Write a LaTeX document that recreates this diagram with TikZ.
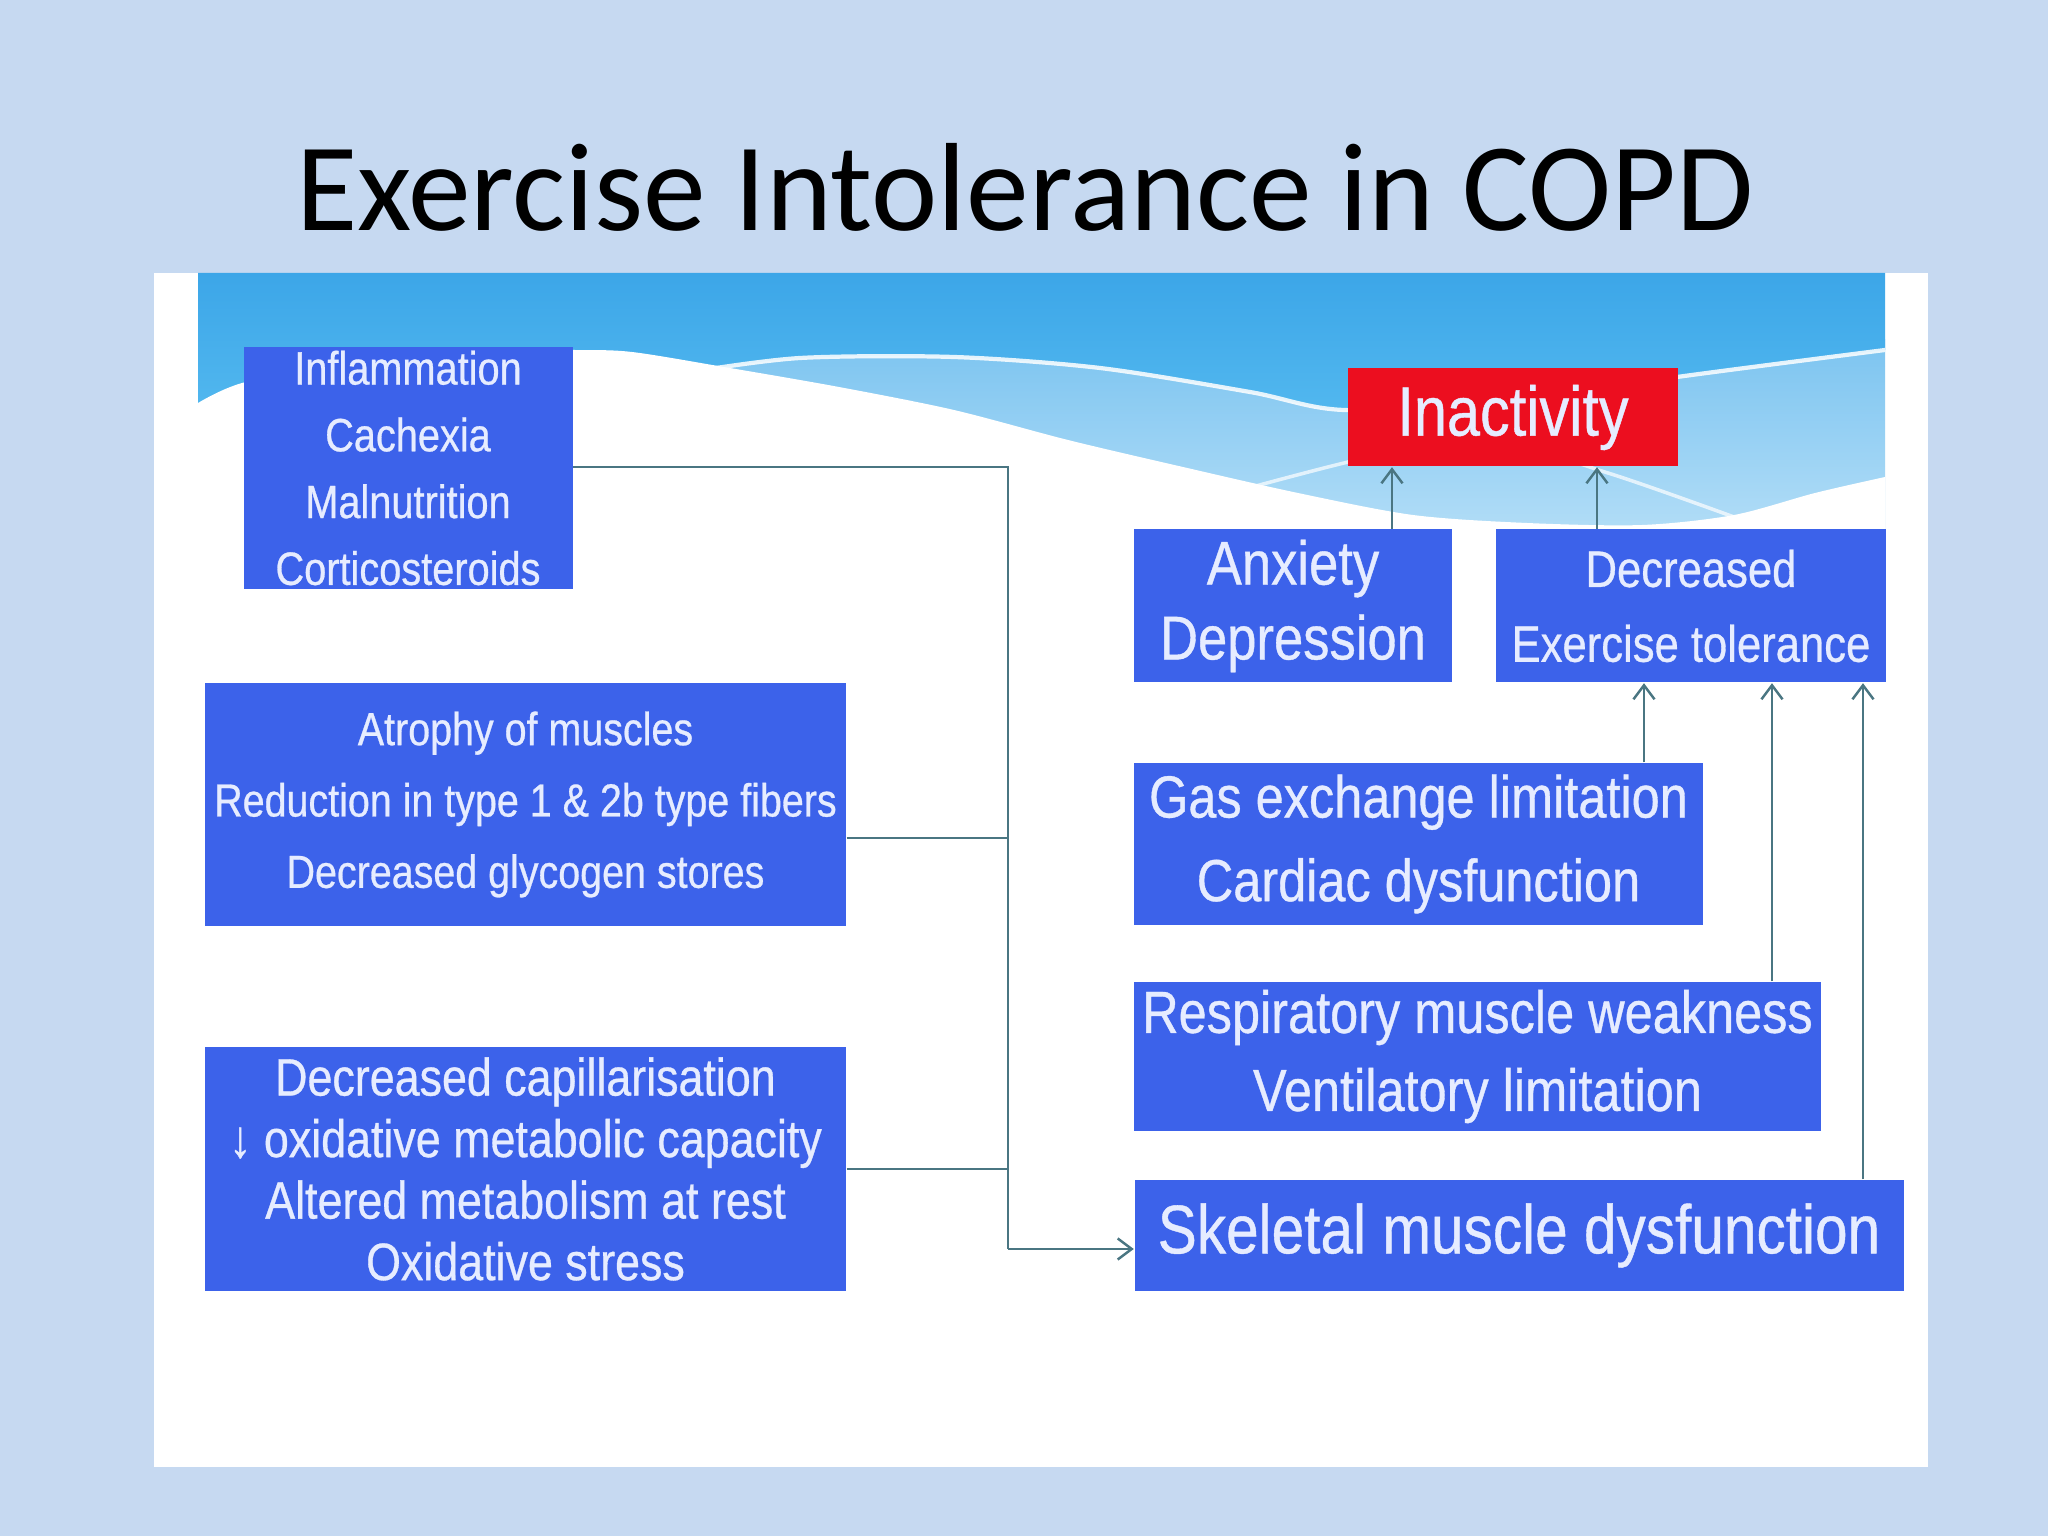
\documentclass[tikz,border=0pt]{standalone}
\usepackage{fontspec}
\newfontfamily\titlefont{Carlito}
\newfontfamily\boxfont[FakeStretch=0.85,FakeBold=0.6]{Liberation Sans}
\usepackage{tikz}
\usetikzlibrary{arrows.meta}
\usepackage{xcolor}
\definecolor{slidebg}{HTML}{C6D9F1}
\definecolor{boxblue}{HTML}{3C62EA}
\definecolor{boxred}{HTML}{EC0E1F}
\definecolor{boxtext}{HTML}{E6ECFF}
\definecolor{wirecol}{HTML}{4A7682}
\definecolor{skytop}{HTML}{3CA6E8}
\definecolor{skybot}{HTML}{56BBF0}
\definecolor{bandtop}{HTML}{7CC4F0}
\definecolor{bandbot}{HTML}{B4DEF7}
\newcommand\fs[2]{\boxfont\fontsize{#1}{#2}\selectfont}

\begin{document}
\begin{tikzpicture}[
  bluebox/.style={fill=boxblue, text=boxtext, align=center, inner sep=0pt},
  wire/.style={draw=wirecol, line width=0.7pt},
  rise/.style={wire, -{Straight Barb[length=4pt,width=6pt]}}
]
% slide and white panel
\fill[slidebg] (0,0) rectangle (20.48,-15.36);
\fill[white] (1.54,-2.73) rectangle (19.28,-14.67);
\node[font=\titlefont\fontsize{35.7}{42}\selectfont, anchor=base] (title) at (10.25,-2.31) {Exercise Intolerance in COPD};

% sky header with waves
\shade[top color=bandtop, bottom color=bandbot] (1.98,-3.40) rectangle (18.85,-5.40);
\shade[top color=skytop, bottom color=skybot] (1.98,-2.73) -- (18.85,-2.73)
  -- plot[smooth] coordinates {(18.85,-3.50) (16.77,-3.77) (15.10,-4.02) (13.44,-4.10) (12.50,-3.92) (11.00,-3.68) (9.54,-3.57) (8.00,-3.58) (6.90,-3.72)}
  -- (5.50,-4.40) -- (1.98,-4.40) -- cycle;
\draw[white, line width=1.2pt, opacity=0.85] plot[smooth] coordinates {(18.85,-3.50) (16.77,-3.77) (15.10,-4.02) (13.44,-4.10) (12.50,-3.92) (11.00,-3.68) (9.54,-3.57) (8.00,-3.58) (6.90,-3.72)};
\draw[white, line width=1pt, opacity=0.7] plot[smooth] coordinates {(12.41,-4.90) (13.44,-4.63) (14.70,-4.35) (16.08,-4.73) (17.34,-5.17)};
\fill[white] plot[smooth] coordinates {(1.98,-4.03) (2.42,-3.83) (3.50,-3.60) (4.60,-3.50) (5.75,-3.50) (6.32,-3.52) (7.24,-3.67) (8.39,-3.87) (9.54,-4.10) (10.68,-4.40) (11.83,-4.67) (12.98,-4.93) (14.13,-5.15) (15.27,-5.23) (16.42,-5.25) (17.34,-5.15) (18.15,-4.93) (18.85,-4.77)}
  -- (18.85,-5.60) -- (1.98,-5.60) -- cycle;

% left column
\node[bluebox, minimum width=3.29cm, minimum height=2.42cm, font=\fs{13.3}{19}] (infl) at (4.08,-4.68) {Inflammation\\Cachexia\\Malnutrition\\Corticosteroids};
\node[bluebox, minimum width=6.41cm, minimum height=2.42cm, font=\fs{13.2}{20.3}] (atro) at (5.255,-8.045) {Atrophy of muscles\\Reduction in type 1 \& 2b type fibers\\Decreased glycogen stores};
\node[bluebox, minimum width=6.41cm, minimum height=2.44cm, font=\fs{15}{17.5}] (capil) at (5.255,-11.69) {Decreased capillarisation\\↓ oxidative metabolic capacity\\Altered metabolism at rest\\Oxidative stress};

% right column
\node[bluebox, fill=boxred, minimum width=3.30cm, minimum height=0.98cm, font=\fs{19.9}{24}] (inact) at (15.13,-4.175) {Inactivity};
\node[bluebox, minimum width=3.18cm, minimum height=1.53cm, font=\fs{17.6}{21.3}] (anx) at (12.93,-6.06) {Anxiety\\Depression};
\node[bluebox, minimum width=3.90cm, minimum height=1.53cm, font=\fs{14.6}{21.3}] (dect) at (16.91,-6.06) {Decreased\\Exercise tolerance};
\node[bluebox, minimum width=5.69cm, minimum height=1.62cm, font=\fs{16.9}{23.8}] (gas) at (14.185,-8.44) {Gas exchange limitation\\Cardiac dysfunction};
\node[bluebox, minimum width=6.87cm, minimum height=1.49cm, font=\fs{16.9}{22.2}] (resp) at (14.775,-10.565) {Respiratory muscle weakness\\Ventilatory limitation};
\node[bluebox, minimum width=7.69cm, minimum height=1.11cm, font=\fs{19.6}{23}] (skel) at (15.19,-12.355) {Skeletal muscle dysfunction};

% connectors
\coordinate (j1) at (10.08,-4.67);
\coordinate (j2) at (10.08,-8.38);
\coordinate (j3) at (10.08,-11.69);
\coordinate (j4) at (10.08,-12.49);
\coordinate (u1) at (13.92,0);
\coordinate (u2) at (15.97,0);
\coordinate (u3) at (16.44,0);
\coordinate (u4) at (17.72,0);
\coordinate (u5) at (18.63,0);
\draw[wire] (infl.east |- j1) -- (j1) -- (j4);
\draw[wire] (atro.east |- j2) -- (j2);
\draw[wire] (capil.east |- j3) -- (j3);
\draw[rise] (j4) -- (skel.west |- j4);
\draw[rise] (u1 |- anx.north) -- (u1 |- inact.south);
\draw[rise] (u2 |- dect.north) -- (u2 |- inact.south);
\draw[rise] (u3 |- gas.north) -- (u3 |- dect.south);
\draw[rise] (u4 |- resp.north) -- (u4 |- dect.south);
\draw[rise] (u5 |- skel.north) -- (u5 |- dect.south);
\end{tikzpicture}
\end{document}
